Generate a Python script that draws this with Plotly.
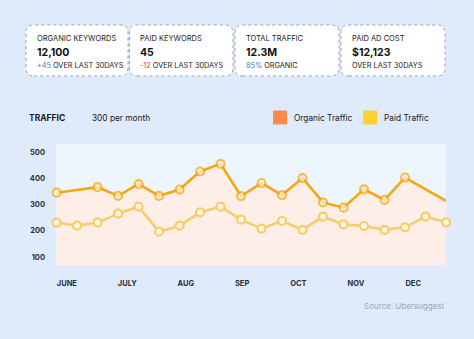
import plotly.graph_objects as go

# ---------------- data ----------------
organic_x = [0, 2, 3, 4, 5, 6, 7, 8, 9, 10, 11, 12, 13, 14, 15, 16, 17, 19]
organic_values = [345, 366, 333, 378, 333, 357, 426, 455, 332, 382, 336, 401, 308, 288, 358, 318, 403, 314]
paid_x = list(range(20))
paid_values = [231, 219, 231, 265, 292, 196, 219, 270, 292, 242, 208, 237, 203, 254, 224, 218, 203, 213, 254, 232]
month_labels = ["JUNE", "JULY", "AUG", "SEP", "OCT", "NOV", "DEC"]
month_pos = [0.5, 3.45, 6.3, 9.05, 11.8, 14.6, 17.4]
y_ticks = [100, 200, 300, 400, 500]

cards = [
    ("ORGANIC KEYWORDS", "12,100", "+45", "#3b7de0", " OVER LAST 30DAYS"),
    ("PAID KEYWORDS", "45", "-12", "#e0394b", " OVER LAST 30DAYS"),
    ("TOTAL TRAFFIC", "12.3M", "85%", "#3b7de0", " ORGANIC"),
    ("PAID AD COST", "$12,123", "", "#222", "OVER LAST 30DAYS"),
]

# ---------------- layout geometry (pixels) ----------------
W, H = 474, 339
L, R, T, B = 56, 28, 144, 74
PW, PH = W - L - R, H - T - B
FONT = "Inter"


def px(x):
    return (x - L) / PW


def py(y):
    return (H - B - y) / PH


fig = go.Figure()

# area under organic traffic
fig.add_trace(go.Scatter(
    x=organic_x, y=organic_values, mode="lines", line=dict(width=0, color="#fdeee7"),
    fill="tozeroy", fillcolor="#fdeee7", hoverinfo="skip", showlegend=False,
))
fig.add_trace(go.Scatter(
    x=paid_x, y=paid_values, name="Paid Traffic", mode="lines+markers",
    line=dict(color="#f6cd6a", width=2.6),
    marker=dict(size=8, color="#fff3e6", line=dict(color="#f6cd6a", width=2.2)),
    cliponaxis=False,
))
fig.add_trace(go.Scatter(
    x=organic_x, y=organic_values, name="Organic Traffic", mode="lines+markers",
    line=dict(color="#f3a712", width=2.6),
    marker=dict(size=[8] * (len(organic_x) - 1) + [0], color="#fff1e8",
                line=dict(color="#f3a712", width=2.2)),
    cliponaxis=False,
))

shapes = []
annotations = []

# cards
card_x = [(26, 128), (129.5, 233), (235, 339), (341, 445)]
cy0, cy1 = 25, 76
r = 8
for (x0, x1), (title, value, hl, hlc, rest) in zip(card_x, cards):
    X0, X1 = px(x0), px(x1)
    Y0, Y1 = py(cy1), py(cy0)
    rx, ry = r / PW, r / PH
    path = (f"M {X0+rx},{Y0} L {X1-rx},{Y0} Q {X1},{Y0} {X1},{Y0+ry} "
            f"L {X1},{Y1-ry} Q {X1},{Y1} {X1-rx},{Y1} L {X0+rx},{Y1} "
            f"Q {X0},{Y1} {X0},{Y1-ry} L {X0},{Y0+ry} Q {X0},{Y0} {X0+rx},{Y0} Z")
    shapes.append(dict(type="path", path=path, xref="paper", yref="paper",
                       fillcolor="white", line=dict(color="#9aa4b8", width=1, dash="dot"),
                       layer="above"))
    tx = x0 + 8.5
    annotations.append(dict(x=px(tx), y=py(38), xref="paper", yref="paper", text=title,
                            showarrow=False, xanchor="left", yanchor="middle",
                            font=dict(family=FONT, size=7.5, color="#222")))
    annotations.append(dict(x=px(tx), y=py(52), xref="paper", yref="paper", text=f"<b>{value}</b>",
                            showarrow=False, xanchor="left", yanchor="middle",
                            font=dict(family=FONT, size=10.5, color="#111")))
    sub = (f"<span style='color:{hlc}'>{hl}</span>" if hl else "") + rest
    annotations.append(dict(x=px(tx), y=py(65), xref="paper", yref="paper", text=sub,
                            showarrow=False, xanchor="left", yanchor="middle",
                            font=dict(family=FONT, size=7.3, color="#222")))

# header
annotations.append(dict(x=px(27), y=py(118), xref="paper", yref="paper", text="<b>TRAFFIC</b>",
                        showarrow=False, xanchor="left", yanchor="middle",
                        font=dict(family=FONT, size=8.5, color="#1a1a1a")))
annotations.append(dict(x=px(90), y=py(118), xref="paper", yref="paper", text="300 per month",
                        showarrow=False, xanchor="left", yanchor="middle",
                        font=dict(family=FONT, size=8.3, color="#1a1a1a")))
# legend
for (sx, color, label) in [(273, "#ff8a4a", "Organic Traffic"), (363, "#ffd12e", "Paid Traffic")]:
    shapes.append(dict(type="rect", xref="paper", yref="paper", x0=px(sx), x1=px(sx + 14),
                       y0=py(124.5), y1=py(110.5), fillcolor=color, line=dict(width=0)))
    annotations.append(dict(x=px(sx + 19), y=py(117.5), xref="paper", yref="paper", text=label,
                            showarrow=False, xanchor="left", yanchor="middle",
                            font=dict(family=FONT, size=8.3, color="#222")))
# source
annotations.append(dict(x=px(447), y=py(306), xref="paper", yref="paper", text="Source: Ubersuggest",
                        showarrow=False, xanchor="right", yanchor="middle",
                        font=dict(family=FONT, size=8, color="#9ba6ba")))

fig.update_layout(
    width=W, height=H,
    margin=dict(l=L, r=R, t=T, b=B),
    paper_bgcolor="#dfeafb", plot_bgcolor="#edf5fe",
    showlegend=False,
    shapes=shapes, annotations=annotations,
    xaxis=dict(range=[-0.03, 19.0], tickvals=month_pos, ticktext=month_labels,
               showgrid=False, zeroline=False, showline=False, ticks="",
               ticklabelstandoff=12,
               tickfont=dict(family=FONT, size=7.5, color="#2a2f3a", weight="bold")),
    yaxis=dict(range=[69, 531], tickvals=y_ticks, showgrid=False, zeroline=False,
               showline=False, ticks="", ticklabelstandoff=10,
               tickfont=dict(family=FONT, size=7.5, color="#2a2f3a", weight="bold")),
)

fig.write_html("out.html")
